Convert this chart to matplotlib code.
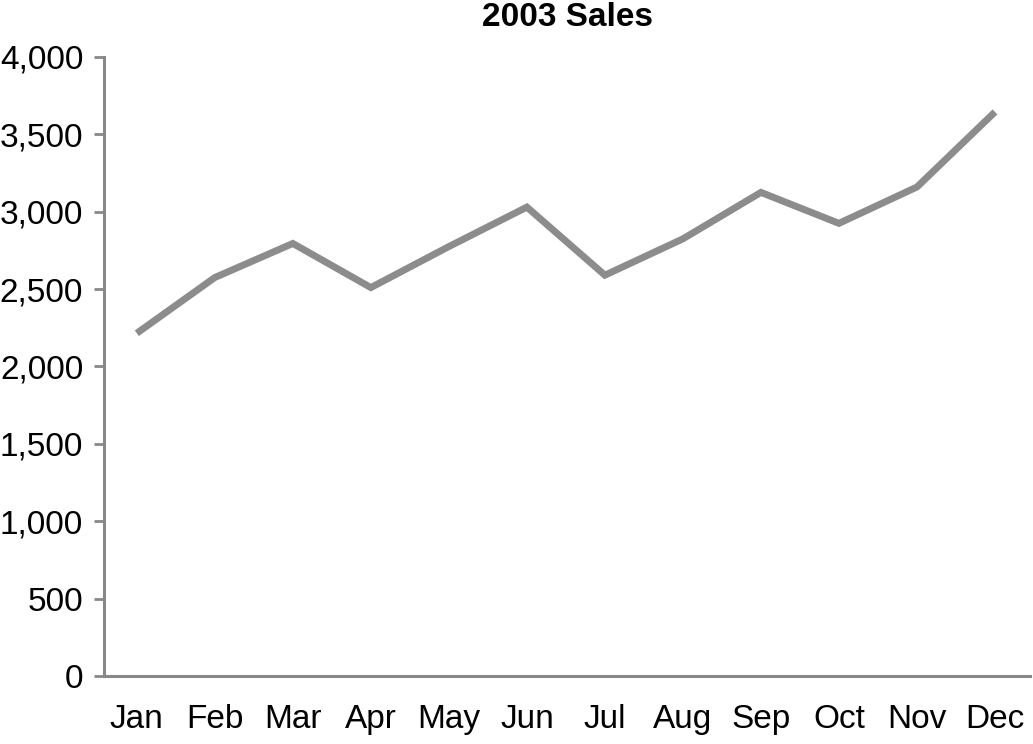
#!/usr/bin/env python3
"""Line chart of monthly sales for 2003."""

import matplotlib
matplotlib.use('Agg')
import matplotlib.pyplot as plt
from matplotlib.ticker import FuncFormatter

MONTHS = ['Jan', 'Feb', 'Mar', 'Apr', 'May', 'Jun',
          'Jul', 'Aug', 'Sep', 'Oct', 'Nov', 'Dec']
SALES = [2215, 2575, 2795, 2510, 2775, 3030,
         2590, 2825, 3125, 2925, 3160, 3645]
Y_TICKS = [0, 500, 1000, 1500, 2000, 2500, 3000, 3500, 4000]

GREY_LINE = '#8c8c8c'
GREY_AXIS = '#888888'


def plot_graph(output_file):
    """Draw the sales line and save it."""
    plt.rcParams['font.family'] = ['Liberation Sans', 'DejaVu Sans']
    fig = plt.figure(figsize=(10.33, 7.44), dpi=100)
    ax = fig.add_axes([0.1007, 0.0914, 0.8965, 0.832])

    x = list(range(len(MONTHS)))
    ax.plot(x, SALES, color=GREY_LINE, linewidth=5, solid_joinstyle='miter',
            solid_capstyle='butt')

    ax.set_xlim(-0.42, 11.45)
    ax.set_ylim(0, 4000)
    ax.set_yticks(Y_TICKS)
    ax.yaxis.set_major_formatter(FuncFormatter(lambda v, _: f'{int(v):,}'))
    ax.set_xticks(x)
    ax.set_xticklabels(MONTHS)

    for side in ['top', 'right']:
        ax.spines[side].set_visible(False)
    for side in ['left', 'bottom']:
        ax.spines[side].set_color(GREY_AXIS)
        ax.spines[side].set_linewidth(2.2)

    ax.tick_params(axis='y', direction='out', length=7, width=2,
                   color=GREY_AXIS, labelsize=24, pad=8)
    ax.tick_params(axis='x', length=0, labelsize=24, pad=20)

    ax.set_title('2003 Sales', fontsize=24, fontweight='bold', pad=22)
    fig.savefig(output_file, dpi=100)


if __name__ == "__main__":
    plot_graph('out.png')
